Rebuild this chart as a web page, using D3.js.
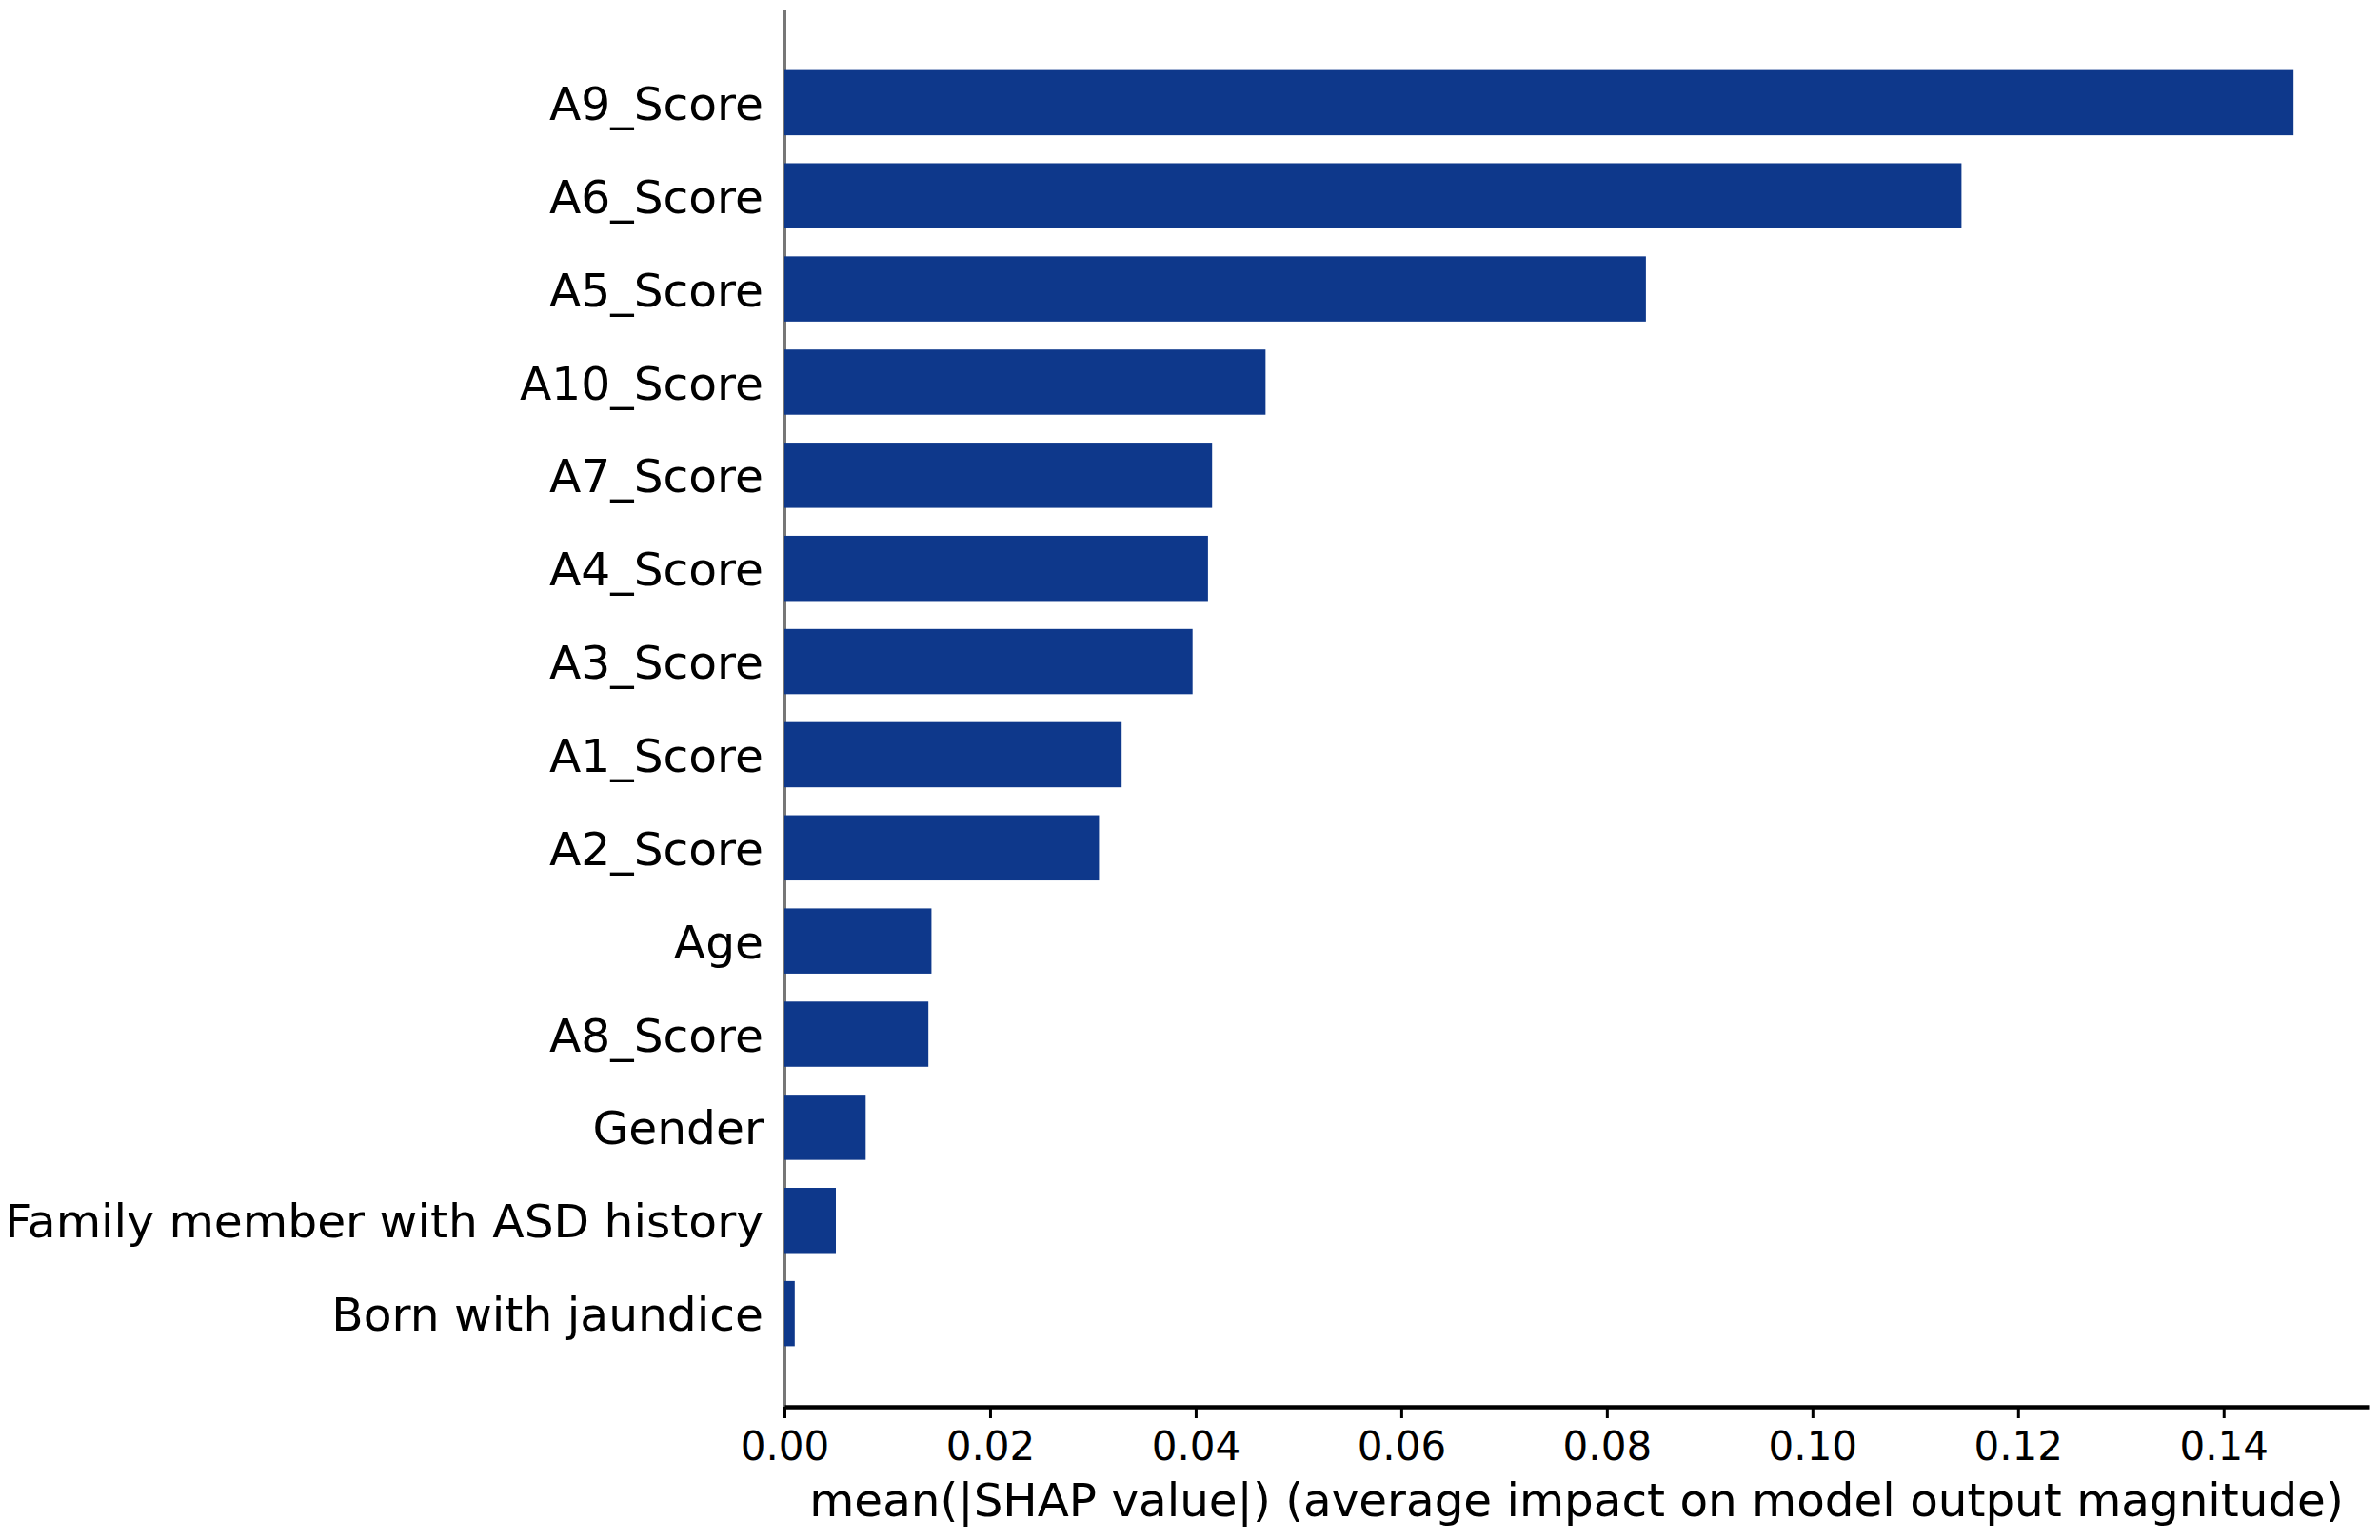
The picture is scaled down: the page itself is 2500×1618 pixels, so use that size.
<!DOCTYPE html>
<html>
<head>
<meta charset="utf-8">
<script src="https://cdn.jsdelivr.net/npm/d3@7"></script>
<style>
  body { margin: 0; background: #fff; }
  text { font-family: "DejaVu Sans", sans-serif; fill: #000; }
</style>
</head>
<body>
<svg id="chart" width="2500" height="1618"></svg>
<script>
// features listed bottom to top (index 0 = bottom bar)
const features = ["Born with jaundice", "Family member with ASD history", "Gender", "A8_Score", "Age",
    "A2_Score", "A1_Score", "A3_Score", "A4_Score", "A7_Score", "A10_Score", "A5_Score", "A6_Score", "A9_Score"];
const meanShap = [0.0010, 0.0050, 0.0079, 0.0140, 0.0143,
    0.0306, 0.0328, 0.0397, 0.0412, 0.0416, 0.0468, 0.0838, 0.1145, 0.1468];
const xTicks = [0, 0.02, 0.04, 0.06, 0.08, 0.10, 0.12, 0.14];
const xLabel = "mean(|SHAP value|) (average impact on model output magnitude)";

const plot = { left: 824, right: 2488, top: 10, bottom: 1478 };

const svg = d3.select("#chart");

const x = d3.scaleLinear().domain([0, 0.1541]).range([plot.left, plot.right]);
const y = d3.scaleLinear().domain([-1, features.length]).range([plot.bottom, plot.top]);
const barH = (y(0) - y(1)) * 0.7;

// left spine + feature labels
const yAxis = svg.append("g")
    .attr("transform", `translate(${plot.left},0)`)
    .call(d3.axisLeft(y).tickValues(d3.range(features.length)).tickFormat(i => features[i]).tickSize(0).tickSizeOuter(0).tickPadding(22));
yAxis.select(".domain").attr("stroke", "#777").attr("stroke-width", 3);
yAxis.selectAll("text").attr("font-size", 48.7).attr("font-family", "DejaVu Sans").attr("dy", "0.36em");

svg.append("g").selectAll("rect").data(meanShap).join("rect")
    .attr("x", x(0))
    .attr("y", (d, i) => y(i) - barH / 2)
    .attr("width", d => x(d) - x(0))
    .attr("height", barH)
    .attr("fill", "#0e388b");

const xAxis = svg.append("g")
    .attr("transform", `translate(0,${plot.bottom})`)
    .call(d3.axisBottom(x).tickValues(xTicks).tickFormat(d3.format(".2f")).tickSize(12).tickSizeOuter(0).tickPadding(14));
xAxis.select(".domain").attr("stroke", "#000").attr("stroke-width", 4.5);
xAxis.selectAll(".tick line").attr("stroke", "#000").attr("stroke-width", 3);
xAxis.selectAll("text").attr("font-size", 42).attr("font-family", "DejaVu Sans");

svg.append("text")
    .attr("x", (plot.left + plot.right) / 2)
    .attr("y", 1593)
    .attr("text-anchor", "middle")
    .attr("font-size", 48.4)
    .text(xLabel);
</script>
</body>
</html>
